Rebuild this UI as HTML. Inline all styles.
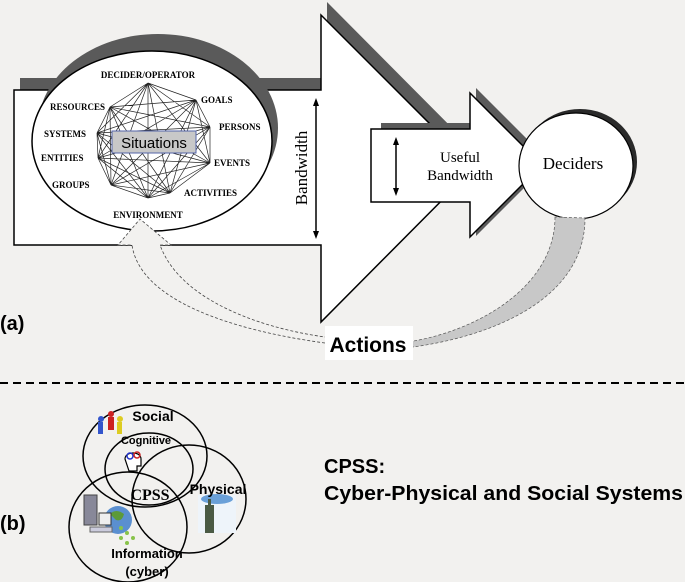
<!DOCTYPE html>
<html><head><meta charset="utf-8"><style>
html,body{margin:0;padding:0;background:#f2f1ef;}
svg{display:block;}
</style></head><body>
<svg width="685" height="582" viewBox="0 0 685 582" xmlns="http://www.w3.org/2000/svg">
<rect width="685" height="582" fill="#f2f1ef"/>
<polygon points="20,78 327,78 327,2 480,156 327,310 327,230 20,230" fill="#5a5a5a"/>
<polygon points="14,90 321,90 321,15 474,168 321,322 321,245 14,245" fill="#fff" stroke="#000" stroke-width="1.5"/>
<ellipse cx="158" cy="128" rx="120" ry="94" fill="#5a5a5a"/>
<ellipse cx="152" cy="141" rx="120" ry="90" fill="#fff" stroke="#000" stroke-width="1.5"/>
<path fill="none" stroke="#222" stroke-width="0.7" d="M148 83L196 100M148 83L210 127M148 83L210 163M148 83L170 193M148 83L148 198M148 83L111 185M148 83L98 158M148 83L97 133M148 83L110 107M196 100L210 127M196 100L210 163M196 100L170 193M196 100L148 198M196 100L111 185M196 100L98 158M196 100L97 133M196 100L110 107M210 127L210 163M210 127L170 193M210 127L148 198M210 127L111 185M210 127L98 158M210 127L97 133M210 127L110 107M210 163L170 193M210 163L148 198M210 163L111 185M210 163L98 158M210 163L97 133M210 163L110 107M170 193L148 198M170 193L111 185M170 193L98 158M170 193L97 133M170 193L110 107M148 198L111 185M148 198L98 158M148 198L97 133M148 198L110 107M111 185L98 158M111 185L97 133M111 185L110 107M98 158L97 133M98 158L110 107M97 133L110 107"/>
<rect x="112" y="131" width="84" height="22" fill="#c8c8c8" stroke="#5566aa" stroke-width="1"/>
<text x="154" y="148" font-family="Liberation Sans, sans-serif" font-size="15" text-anchor="middle">Situations</text>
<g font-family="Liberation Serif, serif" font-size="9" font-weight="bold">
<text x="148" y="78" text-anchor="middle">DECIDER/OPERATOR</text>
<text x="50" y="110">RESOURCES</text>
<text x="201" y="103">GOALS</text>
<text x="219" y="130">PERSONS</text>
<text x="44" y="137">SYSTEMS</text>
<text x="214" y="166">EVENTS</text>
<text x="41" y="161">ENTITIES</text>
<text x="184" y="196">ACTIVITIES</text>
<text x="52" y="188">GROUPS</text>
<text x="148" y="218" text-anchor="middle">ENVIRONMENT</text>
</g>
<text transform="translate(307,168) rotate(-90)" font-family="Liberation Serif, serif" font-size="17" text-anchor="middle">Bandwidth</text>
<line x1="316" y1="104" x2="316" y2="233" stroke="#000" stroke-width="1.5"/>
<polygon points="316,98 313,106 319,106" fill="#000"/>
<polygon points="316,239 313,231 319,231" fill="#000"/>
<polygon points="381,123 476,123 476,88 550,162 476,236 476,200 381,200" fill="#5a5a5a"/>
<polygon points="371,129 470,129 470,93 542,165 470,237 470,202 371,202" fill="#fff" stroke="#000" stroke-width="1.5"/>
<line x1="396" y1="143" x2="396" y2="190" stroke="#000" stroke-width="1.5"/>
<polygon points="396,137 393,145 399,145" fill="#000"/>
<polygon points="396,196 393,188 399,188" fill="#000"/>
<g font-family="Liberation Serif, serif" font-size="15" text-anchor="middle">
<text x="460" y="162">Useful</text>
<text x="460" y="180">Bandwidth</text>
</g>
<ellipse cx="580" cy="162" rx="57" ry="53" fill="#2a2a2a"/>
<ellipse cx="576" cy="166" rx="57" ry="53" fill="#fff" stroke="#000" stroke-width="1.2"/>
<text x="573" y="169" font-family="Liberation Sans, sans-serif" font-size="0"></text>
<text x="573" y="169" font-family="Liberation Serif, serif" font-size="17" text-anchor="middle">Deciders</text>
<path d="M555,217 C555,290 470,335 400,343 L405,348 C490,338 585,300 585,218 Z" fill="#c8c8c8" stroke="#555" stroke-width="0.7" stroke-dasharray="3,2"/>
<path d="M325,343 C230,330 140,300 132,245 L118,245 L140,219 L171,245 L160,245 C180,300 260,328 325,337" fill="#f2f1ef" stroke="#444" stroke-width="0.8" stroke-dasharray="3,2"/>
<rect x="325" y="326" width="88" height="34" fill="#fff"/>
<text x="368" y="352" font-family="Liberation Sans, sans-serif" font-size="21" font-weight="bold" text-anchor="middle">Actions</text>
<text x="0" y="330" font-family="Liberation Sans, sans-serif" font-size="20" font-weight="bold">(a)</text>
<line x1="0" y1="383" x2="685" y2="383" stroke="#000" stroke-width="2" stroke-dasharray="8,5"/>
<text x="0" y="530" font-family="Liberation Sans, sans-serif" font-size="20" font-weight="bold">(b)</text>
<g fill="none" stroke="#000" stroke-width="1.5">
<ellipse cx="145" cy="456" rx="62" ry="51"/>
<ellipse cx="149" cy="469" rx="44" ry="36"/>
<ellipse cx="189" cy="499" rx="57" ry="54"/>
<ellipse cx="128" cy="527" rx="59" ry="55"/>
</g>
<g>
<circle cx="101" cy="419" r="3" fill="#3355cc"/><rect x="98" y="422" width="5" height="12" fill="#3355cc"/>
<circle cx="111" cy="414" r="3" fill="#cc2222"/><rect x="108" y="417" width="6" height="13" fill="#cc2222"/>
<circle cx="120" cy="419" r="3" fill="#ddcc22"/><rect x="117" y="422" width="5" height="12" fill="#ddcc22"/>
<path d="M125,459 c0,-8 16,-8 16,0 l0,7 l-4,0 l0,5 l-8,0 z" fill="#fff" stroke="#000" stroke-width="1.2"/>
<circle cx="130" cy="456" r="3" fill="none" stroke="#2233cc" stroke-width="1.5"/>
<circle cx="137" cy="455" r="3" fill="none" stroke="#cc2222" stroke-width="1.5"/>
<rect x="84" y="495" width="13" height="30" fill="#889" stroke="#444"/>
<circle cx="118" cy="520" r="14" fill="#5a8fd0"/>
<path d="M110,514 q6,-6 14,0 q-2,8 -8,6 z" fill="#5c9a3a"/>
<rect x="99" y="513" width="12" height="12" fill="#eee" stroke="#333"/>
<rect x="90" y="527" width="22" height="5" fill="#ccd" stroke="#666"/>
<g fill="#88c34a"><circle cx="121" cy="528" r="2"/><circle cx="127" cy="533" r="2"/><circle cx="133" cy="538" r="2"/><circle cx="121" cy="538" r="2"/><circle cx="127" cy="543" r="2"/></g>
<rect x="198" y="495" width="38" height="38" fill="#eef4fa"/>
<ellipse cx="217" cy="499" rx="16" ry="5" fill="#6aa0d8"/>
<rect x="205" y="505" width="9" height="28" fill="#4a5a44"/>
<rect x="208" y="499" width="3" height="8" fill="#4a5a44"/>
</g>
<g font-family="Liberation Sans, sans-serif" font-weight="bold" text-anchor="middle">
<text x="153" y="421" font-size="14">Social</text>
<text x="146" y="444" font-size="11">Cognitive</text>
<text x="218" y="494" font-size="14">Physical</text>
<text x="147" y="558" font-size="13">Information</text>
<text x="147" y="576" font-size="13">(cyber)</text>
</g>
<text x="150" y="500" font-family="Liberation Serif, serif" font-weight="bold" font-size="16" text-anchor="middle">CPSS</text>
<g font-family="Liberation Sans, sans-serif" font-weight="bold" font-size="20">
<text x="324" y="473">CPSS:</text>
<text x="324" y="500" textLength="359" lengthAdjust="spacingAndGlyphs">Cyber-Physical and Social Systems</text>
</g>
</svg>
</body></html>
